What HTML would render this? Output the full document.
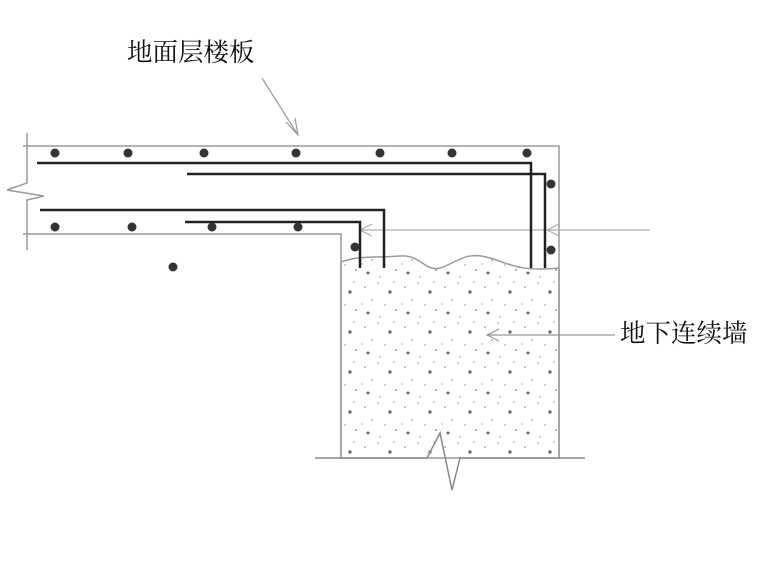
<!DOCTYPE html>
<html><head><meta charset="utf-8"><style>body{margin:0;background:#fff}svg{display:block}</style></head><body>
<svg width="760" height="570" viewBox="0 0 760 570" xmlns="http://www.w3.org/2000/svg">
<defs>
<pattern id="dots" width="40" height="40" patternUnits="userSpaceOnUse">
<circle cx="5" cy="7" r="0.8" fill="#777"/><circle cx="18" cy="3" r="0.7" fill="#888"/><circle cx="30" cy="12" r="1.6" fill="#666"/><circle cx="12" cy="20" r="0.8" fill="#888"/><circle cx="25" cy="25" r="0.7" fill="#888"/><circle cx="36" cy="30" r="0.9" fill="#777"/><circle cx="8" cy="33" r="1.5" fill="#666"/><circle cx="20" cy="37" r="0.7" fill="#888"/><circle cx="34" cy="2" r="0.7" fill="#999"/><circle cx="2" cy="24" r="0.7" fill="#999"/>
</pattern>
</defs>
<g fill="none" stroke="#999" stroke-width="1.5">
<path d="M341,262 C360,255 380,258 400,256 C420,254 425,272 440,268 C455,264 465,250 490,258 C510,264 520,272 559,268 L559,458 L341,458 Z" fill="url(#dots)"/>
<path d="M23,146 H559 V458"/>
<path d="M23,234 H341 V458"/>
<path d="M27,133 V183 L7,190 L44,196 L27,200 V250"/>
<path d="M315,458 H427 L440,433 L452,490 L460,458 H585" stroke="#888"/>
<path d="M360,230 H650 M372,224 L360,230 L372,236 M559,224 L547,230 L559,236" stroke="#aaa" stroke-width="1.2"/>
<path d="M615,335 H487 M499,329 L487,335 L499,341" stroke="#999" stroke-width="1.2"/>
<path d="M262,78 L298,135 M286,122 L298,135 L295,118" stroke="#999" stroke-width="1.2"/>
</g>
<g fill="none" stroke="#222" stroke-width="2.5">
<path d="M37,163 H531 V268"/>
<path d="M187,174 H545 V268"/>
<path d="M40,210 H384 V268"/>
<path d="M185,222 H360 V268"/>
</g>
<g fill="#333">
<circle cx="55" cy="153" r="4.5"/><circle cx="128" cy="153" r="4.5"/><circle cx="204" cy="153" r="4.5"/><circle cx="296" cy="153" r="4.5"/><circle cx="380" cy="153" r="4.5"/><circle cx="452" cy="153" r="4.5"/><circle cx="527" cy="153" r="4.5"/>
<circle cx="551" cy="184" r="4.5"/><circle cx="551" cy="250" r="4.5"/>
<circle cx="55" cy="227" r="4.5"/><circle cx="132" cy="227" r="4.5"/><circle cx="212" cy="227" r="4.5"/><circle cx="298" cy="227" r="4.5"/>
<circle cx="355" cy="247" r="4.5"/><circle cx="173" cy="267" r="4.5"/>
</g>
<g font-family="'Liberation Serif','Noto Serif CJK SC',serif" font-size="25.5" fill="#111">
<text x="127" y="61">地面层楼板</text>
<text x="620" y="342">地下连续墙</text>
</g>
</svg>
</body></html>
